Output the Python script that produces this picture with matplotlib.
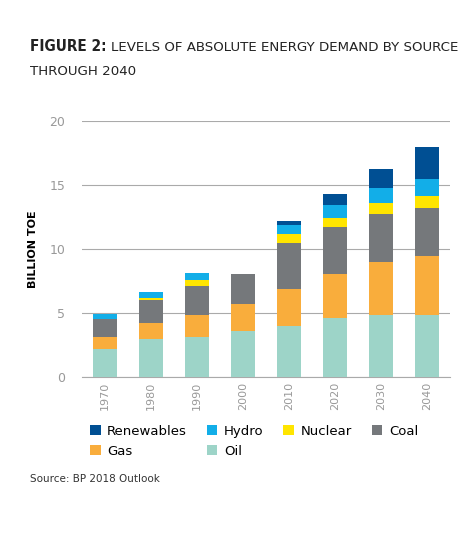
import numpy as np
import matplotlib.pyplot as plt

years = ["1970", "1980", "1990", "2000", "2010", "2020", "2030", "2040"]
oil = [2.2, 2.95, 3.1, 3.57, 3.98, 4.56, 4.82, 4.82]
gas = [0.9, 1.25, 1.75, 2.11, 2.87, 3.46, 4.14, 4.63]
coal = [1.45, 1.8, 2.23, 2.39, 3.59, 3.7, 3.8, 3.75]
nuclear = [0.0, 0.2, 0.5, 0.0, 0.71, 0.73, 0.81, 0.97]
hydro = [0.35, 0.45, 0.52, 0.0, 0.75, 0.99, 1.17, 1.27]
renewables = [0.0, 0.0, 0.0, 0.0, 0.26, 0.83, 1.54, 2.53]

series = [
    ("Oil", oil, "#9dd4c8"),
    ("Gas", gas, "#f9ad3c"),
    ("Coal", coal, "#75787b"),
    ("Nuclear", nuclear, "#ffe500"),
    ("Hydro", hydro, "#12aee8"),
    ("Renewables", renewables, "#004f93"),
]

fig = plt.figure(figsize=(4.74, 5.33), dpi=100)
ax = fig.add_axes([0.173, 0.293, 0.777, 0.48])

x = np.arange(len(years))
bottom = np.zeros(len(years))
handles = {}
for name, vals, color in series:
    handles[name] = ax.bar(x, vals, 0.52, bottom=bottom, color=color, label=name, zorder=3)
    bottom += np.array(vals)

ax.set_ylim(0, 20)
ax.set_xlim(-0.5, len(years) - 0.5)
ax.set_yticks([0, 5, 10, 15, 20])
ax.set_xticks(x)
ax.set_xticklabels(years, rotation=90, color="#999999", fontsize=8)
ax.tick_params(axis="y", colors="#999999", labelsize=9, length=0, pad=12)
ax.tick_params(axis="x", length=0)
ax.grid(axis="y", color="#aaaaaa", linewidth=0.8, zorder=0)
for s in ["top", "right", "left"]:
    ax.spines[s].set_visible(False)
ax.spines["bottom"].set_color("#aaaaaa")
ax.set_ylabel("BILLION TOE", fontsize=8, fontweight="bold", labelpad=8)

# title in two pieces: bold lead-in, then the rest placed right after it
t1 = fig.text(0.063, 0.905, "FIGURE 2:", fontsize=11, fontweight="bold",
              color="#222222", fontstretch="condensed")
fig.canvas.draw()
bb = t1.get_window_extent().transformed(fig.transFigure.inverted())
fig.text(bb.x1 + 0.01, 0.905, "LEVELS OF ABSOLUTE ENERGY DEMAND BY SOURCE",
         fontsize=9.6, color="#222222")
fig.text(0.063, 0.86, "THROUGH 2040", fontsize=9.6, color="#222222")

# column-major fill so rows read Renewables/Hydro/Nuclear/Coal, Gas/Oil
order = ["Renewables", "Gas", "Hydro", "Oil", "Nuclear", "Coal"]
fig.legend([handles[n] for n in order], order, loc="upper left",
           bbox_to_anchor=(0.165, 0.225), ncol=4, frameon=False, fontsize=9.5,
           handlelength=0.8, handleheight=0.8, columnspacing=1.5, handletextpad=0.5)

fig.text(0.063, 0.095, "Source: BP 2018 Outlook", fontsize=7.5, color="#333333")

fig.savefig("out.png", dpi=100)
